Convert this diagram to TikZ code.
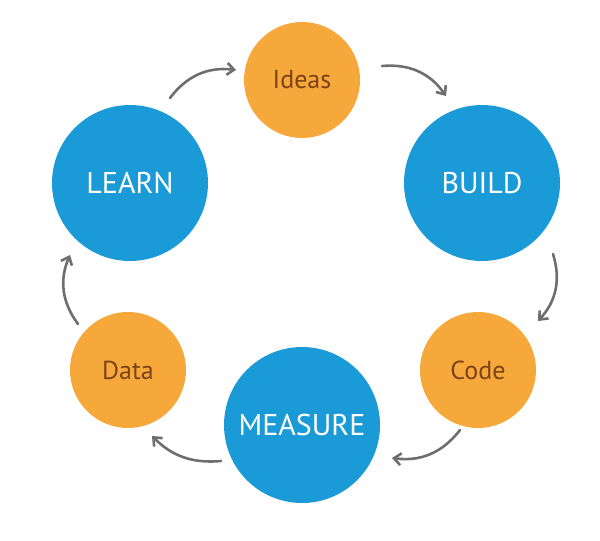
\documentclass[tikz,border=0pt]{standalone}
\usepackage{fontspec}
\setmainfont{PT Sans}
\usetikzlibrary{arrows.meta}
\definecolor{cblue}{HTML}{1A9AD7}
\definecolor{corange}{HTML}{F6A83B}
\definecolor{cbrown}{HTML}{7A4418}
\definecolor{cgray}{HTML}{6E6E6E}
\begin{document}
\begin{tikzpicture}[x=1pt,y=-1pt,
  big/.style={circle,fill=cblue,minimum size=156pt,text=white,font=\fontsize{30}{30}\selectfont},
  small/.style={circle,fill=corange,minimum size=116pt,text=cbrown,font=\fontsize{26}{26}\selectfont},
  arr/.style={draw=cgray,line width=2.6pt,line cap=round,-{Straight Barb[length=7pt,width=12pt]}}]
\useasboundingbox (0,0) rectangle (600,541);
\node[small] (ideas) at (302,80) {Ideas};
\node[big] (build) at (482,183) {BUILD};
\node[small] (code) at (478,370) {Code};
\node[big] (measure) at (302,425) {MEASURE};
\node[small] (data) at (128,370) {Data};
\node[big] (learn) at (130,183) {LEARN};
\coordinate (a1) at (170,98); \coordinate (b1) at (236,70);
\coordinate (a2) at (382,66); \coordinate (b2) at (446,96);
\coordinate (a3) at (553,254); \coordinate (b3) at (538,321);
\coordinate (a4) at (460,430); \coordinate (b4) at (392,458);
\coordinate (a5) at (221,461); \coordinate (b5) at (152,436);
\coordinate (a6) at (78,324); \coordinate (b6) at (70,255);
\draw[arr] (a1) to[bend left=30] (b1);
\draw[arr] (a2) to[bend left=30] (b2);
\draw[arr] (a3) to[bend left=30] (b3);
\draw[arr] (a4) to[bend left=30] (b4);
\draw[arr] (a5) to[bend left=25] (b5);
\draw[arr] (a6) to[bend left=30] (b6);
\end{tikzpicture}
\end{document}
